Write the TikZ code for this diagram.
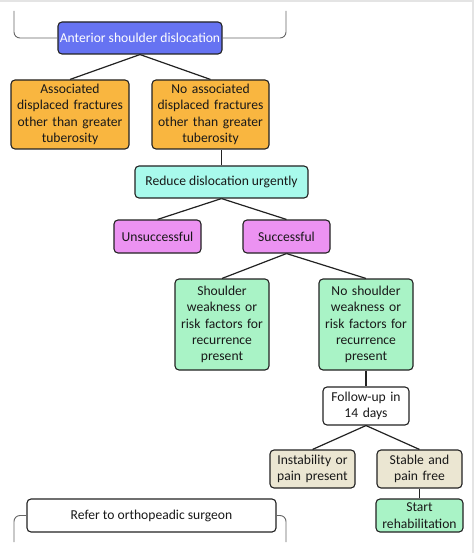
\documentclass[tikz,border=0pt]{standalone}
\usepackage{fontspec}
\setmainfont{Carlito}
\definecolor{bluebox}{HTML}{6673F2}
\definecolor{orangebox}{HTML}{F9B640}
\definecolor{cyanbox}{HTML}{A8FAEC}
\definecolor{violetbox}{HTML}{EC92F2}
\definecolor{greenbox}{HTML}{A9F3C6}
\definecolor{beigebox}{HTML}{EBE6D2}
\definecolor{edge}{HTML}{222222}
\definecolor{frame}{HTML}{E4E4E4}
\begin{document}
\begin{tikzpicture}[x=1pt,y=-1pt,
  box/.style={draw=edge,line width=1.1pt,rounded corners=4pt,align=center,
    inner sep=1pt,font=\fontsize{13.6}{16.4}\selectfont,text=black!90},
  conn/.style={draw=edge,line width=1.2pt},
  brk/.style={draw=black!60,line width=0.9pt,rounded corners=6pt}]
\useasboundingbox (0,0) rectangle (474,553);
\fill[white] (0,0) rectangle (474,553);
\fill[frame] (0,0) rectangle (474,2);
\fill[frame] (472,0) rectangle (474,553);

\node[box,fill=bluebox,text=white,minimum width=164pt,minimum height=32pt] (asd) at (140,38) {Anterior shoulder dislocation};
\node[box,fill=orangebox,minimum width=118pt,minimum height=69pt,text width=114pt] (oL) at (70,114.5) {Associated\\displaced fractures\\other than greater\\tuberosity};
\node[box,fill=orangebox,minimum width=117pt,minimum height=69pt,text width=113pt] (oR) at (210.5,114.5) {No associated\\displaced fractures\\other than greater\\tuberosity};
\node[box,fill=cyanbox,minimum width=173pt,minimum height=32pt] (red) at (221.5,182) {Reduce dislocation urgently};
\node[box,fill=violetbox,minimum width=87pt,minimum height=33pt] (uns) at (157.5,236.5) {Unsuccessful};
\node[box,fill=violetbox,minimum width=87pt,minimum height=33pt] (suc) at (286.5,236.5) {Successful};
\node[box,fill=greenbox,minimum width=94pt,minimum height=91pt,text width=90pt] (gL) at (222,324.5) {Shoulder\\weakness or\\risk factors for\\recurrence\\present};
\node[box,fill=greenbox,minimum width=94pt,minimum height=91pt,text width=90pt] (gR) at (366,324.5) {No shoulder\\weakness or\\risk factors for\\recurrence\\present};
\node[box,fill=white,minimum width=86pt,minimum height=38pt,text width=82pt] (fol) at (366,406) {Follow-up in\\14 days};
\node[box,fill=beigebox,minimum width=85pt,minimum height=38pt,text width=81pt] (ins) at (312.5,469) {Instability or\\pain present};
\node[box,fill=beigebox,minimum width=85pt,minimum height=38pt,text width=81pt] (sta) at (419.5,469) {Stable and\\pain free};
\node[box,fill=greenbox,minimum width=87pt,minimum height=33pt,text width=85pt] (reh) at (419.5,515.5) {Start\\rehabilitation};
\node[box,fill=white,minimum width=249pt,minimum height=33pt] (ref) at (151.5,515.5) {Refer to orthopeadic surgeon};

\coordinate (tl) at (14,11);
\coordinate (tr) at (286,11);
\coordinate (bl) at (14,542);
\coordinate (br) at (286,542);
\draw[brk] (tl) |- (asd.west);
\draw[brk] (asd.east) -| (tr);
\draw[brk] (ref.west) -| (bl);
\draw[brk] (ref.east) -| (br);

\draw[conn] (asd.south) -- (oL.north);
\draw[conn] (asd.south) -- (oR.north);
\draw[conn] (red.north) -- (red.north |- oR.south);
\draw[conn] (red.south) -- (uns.north);
\draw[conn] (red.south) -- (suc.north);
\draw[conn] (suc.south) -- (gL.north);
\draw[conn] (suc.south) -- (gR.north);
\draw[conn] (gR.south) -- (fol.north);
\draw[conn] (fol.south) -- (ins.north);
\draw[conn] (fol.south) -- (sta.north);
\draw[conn] (sta.south) -- (reh.north);
\end{tikzpicture}
\end{document}
